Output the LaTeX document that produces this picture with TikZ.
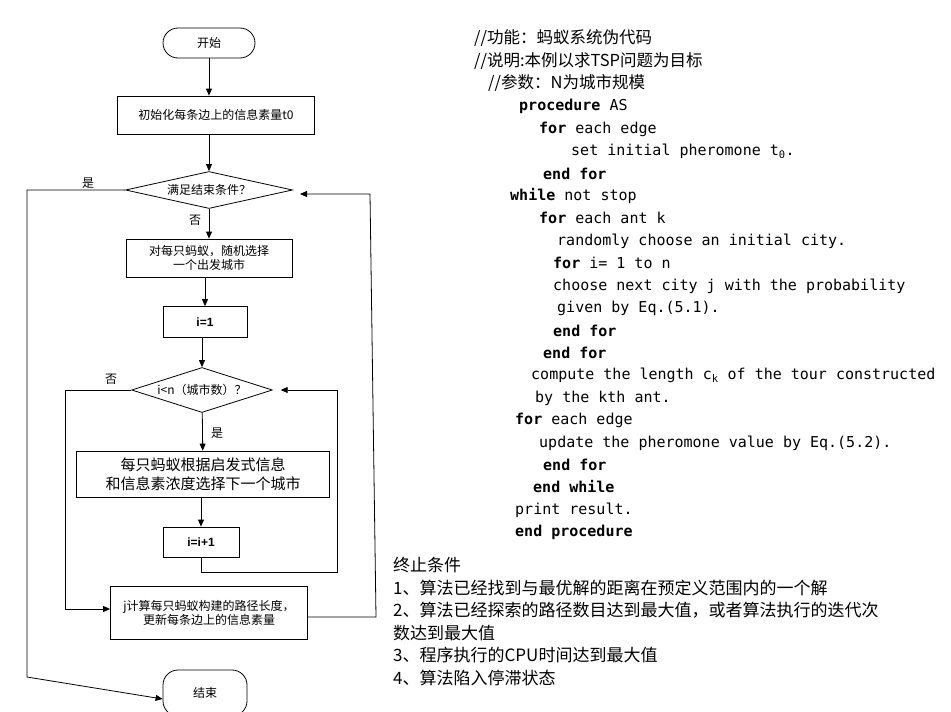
\documentclass[tikz,border=0pt]{standalone}
\usepackage{fontspec}
\setmainfont{Liberation Sans}
\setsansfont{Liberation Sans}
\setmonofont{DejaVu Sans Mono}
\newfontfamily\cjk{Noto Sans CJK SC}
\usetikzlibrary{shapes.geometric,arrows.meta}
\begin{document}
\begin{tikzpicture}[x=1pt,y=-1pt,
  every node/.style={inner sep=0pt,font=\cjk\fontsize{12}{14}\selectfont},
  box/.style={draw,thick,align=center},
  term/.style={draw,thick,rounded corners=15pt},
  dia/.style={draw,thick,diamond,aspect=4.5},
  arr/.style={thick,-{Triangle[length=7pt,width=6pt]}},
  code/.style={anchor=west,font=\ttfamily\fontsize{15}{17}\selectfont},
  cn/.style={anchor=west,font=\cjk\fontsize{16.5}{18}\selectfont},
  tn/.style={anchor=west,font=\cjk\fontsize{17}{19}\selectfont}]
\useasboundingbox (0,0) rectangle (951,712);
% flowchart
\node[term,minimum width=92pt,minimum height=30pt] (start) at (209,43) {开始};
\node[box,minimum width=197pt,minimum height=38pt] (init) at (216,115) {初始化每条边上的信息素量t0};
\node[dia,minimum width=167pt,minimum height=37pt] (d1) at (209,190) {满足结束条件？};
\node[box,minimum width=166pt,minimum height=38pt] (sel) at (209,258) {对每只蚂蚁，随机选择\\一个出发城市};
\node[box,minimum width=84pt,minimum height=31pt,font=\sffamily\bfseries\fontsize{12}{14}\selectfont] (i1) at (205,322) {i=1};
\node[dia,minimum width=136pt,minimum height=45pt] (d2) at (202,390) {i<n（城市数）？};
\node[box,minimum width=253pt,minimum height=46pt,font=\cjk\fontsize{15}{19}\selectfont] (move) at (203,474) {每只蚂蚁根据启发式信息\\和信息素浓度选择下一个城市};
\node[box,minimum width=76pt,minimum height=30pt,font=\sffamily\bfseries\fontsize{12}{14}\selectfont] (inc) at (201,542) {i=i+1};
\node[box,minimum width=197pt,minimum height=53pt] (upd) at (209,613) {j计算每只蚂蚁构建的路径长度，\\更新每条边上的信息素量};
\node[term,minimum width=84pt,minimum height=46pt] (end) at (205,693) {结束};
\draw[arr] (start.south) -- (start.south |- init.north);
\draw[arr] (d1.north |- init.south) -- (d1.north);
\draw[arr] (d1) -- (sel);
\draw[arr] (sel.south -| i1) -- (i1.north);
\draw[arr] (i1.south -| d2) -- (d2.north);
\draw[arr] (d2) -- (move);
\draw[arr] (move.south -| inc) -- (inc);
\coordinate (c1) at (27,190); \coordinate (c2) at (27,677);
\draw[arr] (d1.west) -- (c1) -- (c2) -- ([yshift=-6pt]end.west);
\coordinate (c3) at (376,617); \coordinate (c4) at (370,194);
\draw[arr] (upd.east |- c3) -- (c3) -- (c4) -- (300,194);
\coordinate (c5) at (201,572); \coordinate (c6) at (337,572); \coordinate (c7) at (337,390);
\draw[arr] (inc.south) -- (c5) -- (c6) -- (c7) -- ([xshift=8pt]d2.east);
\coordinate (c8) at (65,390); \coordinate (c9) at (65,609);
\draw[arr] (d2.west) -- (c8) -- (c9) -- (upd.west |- c9);
\node (l1) at (88,183) {是};
\node (l2) at (195,220) {否};
\node (l3) at (111,379) {否};
\node (l4) at (217,433) {是};
% code
\node[cn] (k1) at (474,38) {//功能：蚂蚁系统伪代码};
\node[cn] (k2) at (474,61) {//说明:本例以求TSP问题为目标};
\node[cn] (k3) at (488,83) {//参数：N为城市规模};
\node[code] (k4) at (519,106) {\textbf{procedure} AS};
\node[code] (k5) at (539,129) {\textbf{for} each edge};
\node[code] (k6) at (571,151) {set initial pheromone t\textsubscript{0}.};
\node[code] (k7) at (543,174) {\textbf{end for}};
\node[code] (k8) at (510,196) {\textbf{while} not stop};
\node[code] (k9) at (539,218) {\textbf{for} each ant k};
\node[code] (k10) at (557,241) {randomly choose an initial city.};
\node[code] (k11) at (553,263) {\textbf{for} i= 1 to n};
\node[code] (k12) at (553,286) {choose next city j with the probability};
\node[code] (k13) at (557,308) {given by Eq.(5.1).};
\node[code] (k14) at (553,331) {\textbf{end for}};
\node[code] (k15) at (543,353) {\textbf{end for}};
\node[code] (k16) at (531,375) {compute the length c\textsubscript{k} of the tour constructed};
\node[code] (k17) at (535,398) {by the kth ant.};
\node[code] (k18) at (515,420) {\textbf{for} each edge};
\node[code] (k19) at (539,443) {update the pheromone value by Eq.(5.2).};
\node[code] (k20) at (543,465) {\textbf{end for}};
\node[code] (k21) at (533,487) {\textbf{end while}};
\node[code] (k22) at (515,510) {print result.};
\node[code] (k23) at (515,532) {\textbf{end procedure}};
% termination
\node[tn] (t1) at (393,565) {终止条件};
\node[tn] (t2) at (393,588) {1、算法已经找到与最优解的距离在预定义范围内的一个解};
\node[tn] (t3) at (393,610) {2、算法已经探索的路径数目达到最大值，或者算法执行的迭代次};
\node[tn] (t4) at (393,633) {数达到最大值};
\node[tn] (t5) at (393,655) {3、程序执行的CPU时间达到最大值};
\node[tn] (t6) at (393,678) {4、算法陷入停滞状态};
\end{tikzpicture}
\end{document}
